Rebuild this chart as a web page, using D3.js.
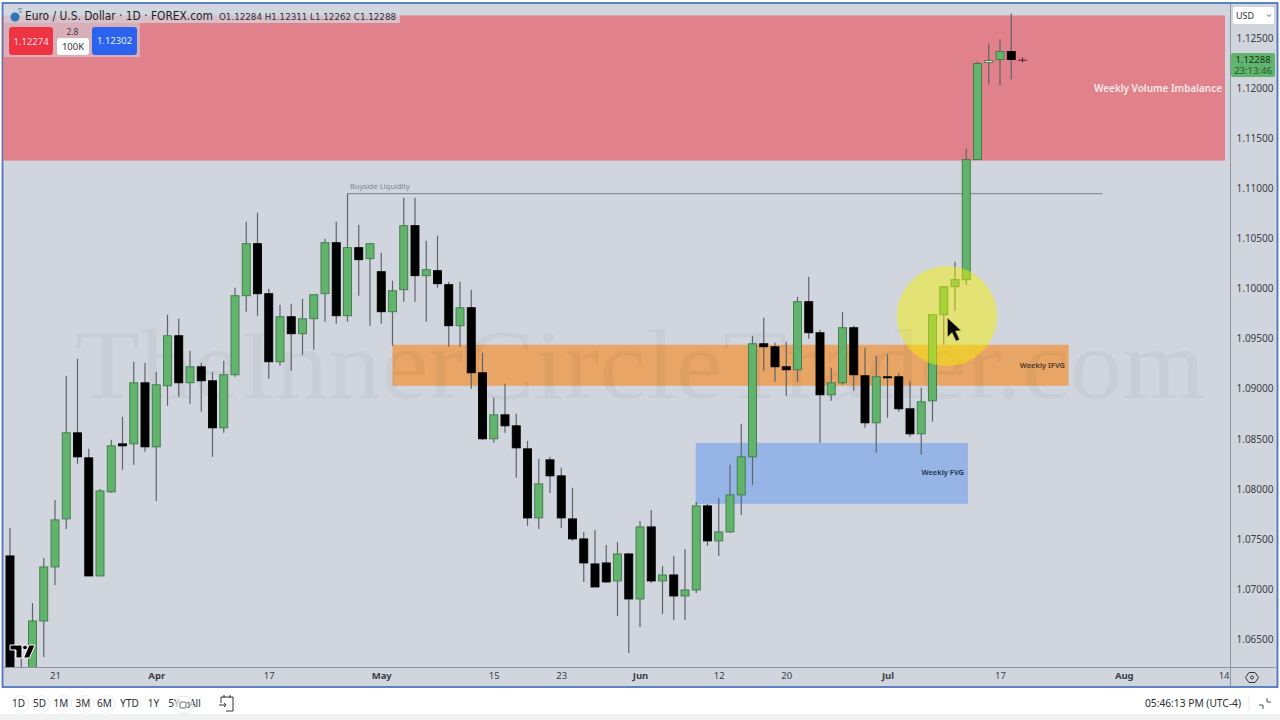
<!DOCTYPE html>
<html><head><meta charset="utf-8">
<script src="https://cdn.jsdelivr.net/npm/d3@7"></script>
<style>html,body{margin:0;padding:0;background:#fff;overflow:hidden}svg{display:block}text{font-family:"Noto Sans","DejaVu Sans",sans-serif}</style>
</head><body><svg id="c" width="1280" height="720"></svg>
<script>
const opens=[1.0733,1.0609,1.0609,1.0668,1.0722,1.0770,1.0856,1.0831,1.0713,1.0797,1.0845,1.0845,1.0906,1.0842,1.0903,1.0953,1.0906,1.0922,1.0908,1.0861,1.0914,1.0993,1.1045,1.0995,1.0927,1.0972,1.0955,1.0970,1.0995,1.1046,1.0973,1.1041,1.1030,1.1017,1.0977,1.0999,1.1063,1.1013,1.1018,1.1004,1.0963,1.0981,1.0916,1.0850,1.0874,1.0863,1.0840,1.0771,1.0829,1.0813,1.0770,1.0750,1.0725,1.0726,1.0708,1.0735,1.0690,1.0762,1.0708,1.0714,1.0693,1.0699,1.0783,1.0748,1.0757,1.0794,1.0832,1.0945,1.0942,1.0922,1.0919,1.0987,1.0956,1.0894,1.0906,1.0961,1.0913,1.0866,1.0912,1.0912,1.0880,1.0855,1.0888,1.0974,1.1002,1.1009,1.1129,1.1226,1.1229,1.1237,1.12284];
const highs=[1.0761,1.0632,1.0686,1.0731,1.0789,1.0913,1.0930,1.0840,1.0800,1.0849,1.0872,1.0927,1.0926,1.0917,1.0974,1.0970,1.0938,1.0926,1.0917,1.0928,1.1001,1.1067,1.1076,1.1000,1.0984,1.0985,1.0990,1.0994,1.1050,1.1067,1.1095,1.1064,1.1045,1.1036,1.1008,1.1091,1.1091,1.1048,1.1053,1.1007,1.1007,1.0999,1.0936,1.0891,1.0905,1.0875,1.0848,1.0830,1.0832,1.0821,1.0801,1.0757,1.0759,1.0744,1.0747,1.0736,1.0768,1.0779,1.0723,1.0733,1.0740,1.0787,1.0785,1.0791,1.0824,1.0865,1.0953,1.0971,1.0946,1.0947,1.0992,1.1012,1.0959,1.0921,1.0977,1.0963,1.0941,1.0933,1.0935,1.0916,1.0908,1.0901,1.0974,1.1002,1.1027,1.1140,1.1227,1.1245,1.1249,1.1275,1.12311];
const lows=[1.0569,1.0584,1.0599,1.0632,1.0704,1.0760,1.0825,1.0713,1.0713,1.0796,1.0819,1.0824,1.0837,1.0788,1.0883,1.0892,1.0885,1.0877,1.0832,1.0856,1.0912,1.0977,1.0973,1.0910,1.0923,1.0918,1.0934,1.0939,1.0967,1.0965,1.0967,1.0993,1.0963,1.0965,1.0943,1.0987,1.0987,1.0967,1.1001,1.0942,1.0942,1.0900,1.0849,1.0846,1.0856,1.0811,1.0763,1.0760,1.0796,1.0761,1.0748,1.0707,1.0702,1.0706,1.0673,1.0636,1.0662,1.0706,1.0675,1.0669,1.0669,1.0696,1.0743,1.0733,1.0756,1.0774,1.0804,1.0918,1.0907,1.0893,1.0907,1.0950,1.0846,1.0888,1.0904,1.0898,1.0861,1.0836,1.0871,1.0877,1.0852,1.0834,1.0867,1.0944,1.0978,1.1004,1.1129,1.1204,1.1203,1.1209,1.12262];
const closes=[1.0589,1.0594,1.0668,1.0722,1.0769,1.0856,1.0832,1.0713,1.0798,1.0843,1.0843,1.0906,1.0842,1.0904,1.0953,1.0906,1.0922,1.0908,1.0861,1.0914,1.0993,1.1045,1.0995,1.0927,1.0972,1.0955,1.0970,1.0994,1.1046,1.0973,1.1041,1.1029,1.1045,1.0977,1.0998,1.1063,1.1013,1.1019,1.1005,1.0963,1.0981,1.0916,1.0850,1.0874,1.0863,1.0841,1.0771,1.0805,1.0813,1.0771,1.0750,1.0726,1.0702,1.0707,1.0735,1.0690,1.0762,1.0708,1.0714,1.0693,1.0699,1.0783,1.0748,1.0757,1.0794,1.0832,1.0945,1.0942,1.0922,1.0919,1.0987,1.0956,1.0894,1.0906,1.0961,1.0914,1.0866,1.0912,1.0911,1.0880,1.0855,1.0887,1.0974,1.1002,1.1009,1.1129,1.1225,1.1228,1.1237,1.1229,1.12288];

const priceTicks=[1.125,1.12,1.115,1.11,1.105,1.10,1.095,1.09,1.085,1.08,1.075,1.07,1.065];
const timeTickBars=[4,13,23,33,43,49,56,63,69,78,88,99,108];
const timeTickLabels=["21","Apr","17","May","15","23","Jun","12","20","Jul","17","Aug","14"];
const boldTimeTicks=["Apr","May","Jun","Jul","Aug"];
const ranges=["1D","5D","1M","3M","6M","YTD","1Y","5Y","All"];
const zoneRed=[1.1273,1.1128];
const zoneOrange=[1.0944,1.0903,34,94.1];
const zoneBlue=[1.0846,1.0785,60.95,85.15];
const liquidity=[1.1095,30,97.1];

const CH={l:3,r:1230,t:4,b:667};
const x=d3.scaleLinear().domain([0,108]).range([10,1225]);
const y=d3.scaleLinear().domain([1.125,1.065]).range([38.5,639]);
const svg=d3.select("#c");

svg.append("rect").attr("x",0).attr("y",0).attr("width",1280).attr("height",720).attr("fill","#fff");
svg.append("rect").attr("x",2.5).attr("y",3).attr("width",1275).attr("height",684).attr("fill","#d1d5de").attr("stroke","#4f76bd").attr("stroke-width",1.8);
svg.append("rect").attr("x",0).attr("y",714).attr("width",1280).attr("height",6).attr("fill","#f0f1f3");
svg.append("defs").append("clipPath").attr("id","plot").append("rect").attr("x",CH.l).attr("y",CH.t).attr("width",CH.r-CH.l).attr("height",CH.b-CH.t);

const plot=svg.append("g").attr("clip-path","url(#plot)");
plot.append("rect").attr("x",3).attr("width",1222).attr("y",y(zoneRed[0])).attr("height",y(zoneRed[1])-y(zoneRed[0])).attr("fill","#e1818b");
plot.append("rect").attr("x",x(zoneOrange[2])).attr("width",x(zoneOrange[3])-x(zoneOrange[2])).attr("y",y(zoneOrange[0])).attr("height",y(zoneOrange[1])-y(zoneOrange[0])).attr("fill","#e9a566");
plot.append("rect").attr("x",x(zoneBlue[2])).attr("width",x(zoneBlue[3])-x(zoneBlue[2])).attr("y",y(zoneBlue[0])).attr("height",y(zoneBlue[1])-y(zoneBlue[0])).attr("fill","#96b4e6");

plot.append("text").attr("x",75).attr("y",398).attr("textLength",1130).attr("lengthAdjust","spacingAndGlyphs")
  .style("font-family","'Liberation Serif',serif").attr("font-size",100).attr("fill","#000").attr("fill-opacity",0.035).text("TheInnerCircleTrader.com");

plot.append("line").attr("x1",x(liquidity[1])).attr("x2",x(liquidity[2])).attr("y1",y(liquidity[0])).attr("y2",y(liquidity[0])).attr("stroke","#8b8f98").attr("stroke-width",1.3);
plot.append("text").attr("x",350).attr("y",189).attr("font-size",7.5).attr("fill","#80848e").text("Buyside Liquidity");

const candles=opens.map((o,i)=>({i,o,h:highs[i],l:lows[i],c:closes[i],up:closes[i]>=o}));
const bw=8;
const g=plot.selectAll("g.c").data(candles).join("g").attr("class","c");
g.append("line").attr("x1",d=>x(d.i)).attr("x2",d=>x(d.i)).attr("y1",d=>y(d.h)).attr("y2",d=>y(d.l))
  .attr("stroke",d=>d.i==90?"#6a3040":"#5f636c").attr("stroke-width",1.2);
g.append("rect").attr("x",d=>x(d.i)-(d.i==90?4.5:bw/2)).attr("width",d=>d.i==90?9:bw)
  .attr("y",d=>y(Math.max(d.o,d.c))).attr("height",d=>Math.max(1,Math.abs(y(d.o)-y(d.c))))
  .attr("fill",d=>d.i==87?"#e8e4d8":d.i==90?"#4a2030":d.up?"#62b46c":"#000")
  .attr("stroke",d=>d.i==90?"none":d.up?"#3e7a48":"#000").attr("stroke-width",0.9);

plot.append("text").attr("x",1222).attr("y",91.5).attr("text-anchor","end").attr("font-size",10.5).attr("font-weight",600).attr("fill","#fbe9ea").attr("textLength",128).attr("lengthAdjust","spacingAndGlyphs").text("Weekly Volume Imbalance");
plot.append("text").attr("x",1065).attr("y",368).attr("text-anchor","end").attr("font-size",7.5).attr("font-weight",600).attr("fill","#4a3a2a").text("Weekly IFVG");
plot.append("text").attr("x",964).attr("y",475).attr("text-anchor","end").attr("font-size",7.5).attr("font-weight",600).attr("fill","#1f2f4f").text("Weekly FVG");

// highlight and pointer
plot.append("circle").attr("cx",947).attr("cy",316).attr("r",50).attr("fill","#f4f000").attr("fill-opacity",0.47);
plot.append("path").attr("d","M947.5 318 L947.5 337 L952 332.5 L956 341 L959.5 339.5 L955.5 331 L961 330.5 Z").attr("fill","#0a0a0a").attr("stroke","#cfd24a").attr("stroke-width",0.4);

// TV logo
const logo=plot.append("g").attr("fill","#000").attr("stroke","#fff").attr("stroke-width",1);
logo.append("path").attr("d","M10 645 H22 V658 H16 V650 H10 Z");
logo.append("circle").attr("cx",25).attr("cy",647.5).attr("r",2.4);
logo.append("path").attr("d","M29 645 H35 L29.5 658 H23.5 Z");

// axes lines
svg.append("line").attr("x1",4).attr("x2",1276).attr("y1",667.5).attr("y2",667.5).attr("stroke","#8f949e");
svg.append("line").attr("x1",1230.5).attr("x2",1230.5).attr("y1",4).attr("y2",686).attr("stroke","#8f949e");

const yAxis=d3.axisRight(y).tickValues(priceTicks).tickFormat(d3.format(".5f")).tickSize(0).tickPadding(6);
const ya=svg.append("g").attr("transform","translate(1230.5,0)").call(yAxis);
ya.select(".domain").remove();
ya.selectAll("text").attr("font-size",10).attr("fill","#3a3e46").style("font-family","'Noto Sans',sans-serif");

const xAxis=d3.axisBottom(x).tickValues(timeTickBars).tickFormat((d,i)=>timeTickLabels[i]).tickSize(0).tickPadding(5);
const xa=svg.append("g").attr("transform","translate(0,667.5)").call(xAxis);
xa.select(".domain").remove();
xa.selectAll("text").attr("font-size",9.5).attr("fill","#3a3e46").attr("font-weight",(d,i)=>boldTimeTicks.includes(timeTickLabels[i])?700:400).style("font-family","'Noto Sans',sans-serif");
xa.selectAll("text").filter((d,i)=>i==timeTickBars.length-1).attr("text-anchor","end").attr("dx",4);

// USD box & price tag
svg.append("rect").attr("x",1233).attr("y",7).attr("width",41).attr("height",17).attr("rx",2).attr("fill","#fff");
svg.append("text").attr("x",1236).attr("y",19).attr("font-size",9).attr("fill","#333").text("USD");
svg.append("path").attr("d","M1267 14.5 l2 2 l2 -2").attr("fill","none").attr("stroke","#555");
svg.append("rect").attr("x",1231).attr("y",53).attr("width",44).attr("height",24).attr("rx",2).attr("fill","#62b46c");
svg.append("text").attr("x",1253).attr("y",63).attr("text-anchor","middle").attr("font-size",9.5).attr("fill","#10361a").text("1.12288");
svg.append("text").attr("x",1253).attr("y",74).attr("text-anchor","middle").attr("font-size",9.5).attr("fill","#1f5a2c").text("23:13:46");

// header
svg.append("rect").attr("x",4).attr("y",6).attr("width",396).attr("height",17).attr("fill","#d1d5de").attr("fill-opacity",0.75);
svg.append("rect").attr("x",4).attr("y",23).attr("width",136).attr("height",34).attr("fill","#d1d5de").attr("fill-opacity",0.55);
svg.append("circle").attr("cx",15).attr("cy",17).attr("r",4.5).attr("fill","#2f74b5");
svg.append("path").attr("d","M18 9 h4 M19 12 h3").attr("stroke","#3f7fbf").attr("stroke-width",1);
svg.append("text").attr("x",25).attr("y",20).style("font-family","'DejaVu Sans',sans-serif").attr("font-size",11.5).attr("fill","#1c1e24").attr("textLength",188).attr("lengthAdjust","spacingAndGlyphs").text("Euro / U.S. Dollar · 1D · FOREX.com");
svg.append("text").attr("x",219).attr("y",20).style("font-family","'DejaVu Sans',sans-serif").attr("font-size",8.5).attr("fill","#2a2d35").attr("textLength",177).attr("lengthAdjust","spacingAndGlyphs").text("O1.12284 H1.12311 L1.12262 C1.12288");
svg.append("rect").attr("x",9).attr("y",27).attr("width",44).attr("height",28).attr("rx",3).attr("fill","#ee3342");
svg.append("text").attr("x",31).attr("y",44.5).attr("text-anchor","middle").attr("font-size",9.5).attr("fill","#fde").text("1.12274");
svg.append("text").attr("x",72.5).attr("y",34.5).attr("text-anchor","middle").attr("font-size",8.5).attr("fill","#3a3e46").text("2.8");
svg.append("rect").attr("x",57).attr("y",38).attr("width",32).attr("height",17).attr("rx",3).attr("fill","#fff");
svg.append("text").attr("x",73).attr("y",50).attr("text-anchor","middle").attr("font-size",9.5).attr("fill","#333").text("100K");
svg.append("rect").attr("x",92).attr("y",27).attr("width",45).attr("height",28).attr("rx",3).attr("fill","#2b62ee");
svg.append("text").attr("x",114.5).attr("y",44).attr("text-anchor","middle").attr("font-size",9.5).attr("fill","#e8eeff").text("1.12302");

// gear icon
svg.append("path").attr("d","M1249 672.5 h6 l3.5 5 l-3.5 5 h-6 l-3.5 -5 Z").attr("fill","none").attr("stroke","#333").attr("stroke-width",1);
svg.append("circle").attr("cx",1252).attr("cy",677.5).attr("r",1.5).attr("fill","none").attr("stroke","#333");

// bottom toolbar
const rx=[18.5,39.5,61,83,104.5,129.5,153.5,174,195];
svg.append("g").selectAll("circle").data(rx.slice(0,5)).join("circle").attr("cx",d=>d+2).attr("cy",704).attr("r",8.5).attr("fill","none").attr("stroke","#eceef1");
svg.append("g").selectAll("text").data(ranges).join("text").attr("x",(d,i)=>rx[i]).attr("y",707).attr("text-anchor","middle").attr("font-size",10).attr("fill","#2a2d35").text(d=>d);
svg.append("circle").attr("cx",184).attr("cy",705).attr("r",9).attr("fill","#fff").attr("fill-opacity",0.6).attr("stroke","#e2e4e8");
svg.append("rect").attr("x",180).attr("y",702).attr("width",6).attr("height",6).attr("rx",1).attr("fill","none").attr("stroke","#444").attr("stroke-width",0.8);
svg.append("path").attr("d","M187 703 l2 -1 v6 l-2 -1").attr("fill","none").attr("stroke","#444").attr("stroke-width",0.8);
svg.append("path").attr("d","M221 703 v-6 h12 v14 h-7 M224 695 v3 M230 695 v3 M219 705 h7 m-2 -2 l2 2 l-2 2").attr("fill","none").attr("stroke","#333").attr("stroke-width",1);
svg.append("text").attr("x",1241).attr("y",707).attr("text-anchor","end").attr("font-size",10).attr("fill","#2a2d35").attr("textLength",96).attr("lengthAdjust","spacingAndGlyphs").text("05:46:13 PM (UTC-4)");
svg.append("line").attr("x1",1249).attr("x2",1249).attr("y1",695).attr("y2",711).attr("stroke","#e6e8ec");
svg.append("path").attr("d","M1259 705 h4 v4 M1267 698 v4 h4").attr("fill","none").attr("stroke","#555");
</script></body></html>
